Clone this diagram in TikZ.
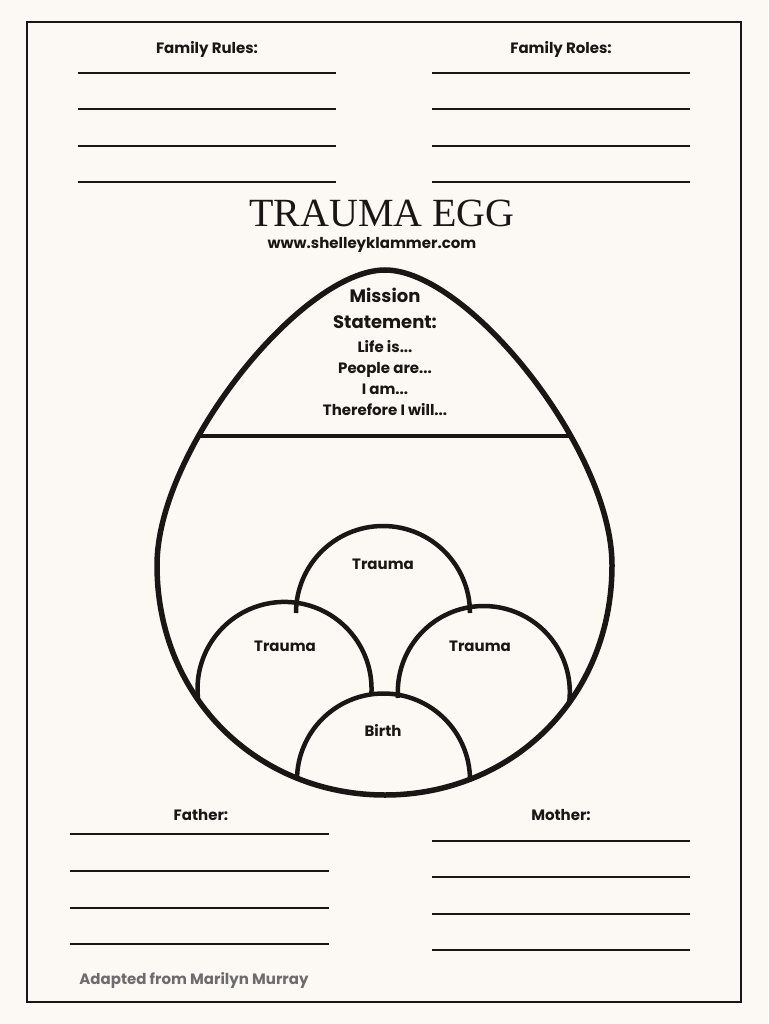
\documentclass[tikz,border=0pt]{standalone}
\usepackage{fontspec}
\setmainfont{Poppins}
\newfontfamily\titlefont{Liberation Serif}
\definecolor{bg}{HTML}{FCF8F4}
\definecolor{ink}{HTML}{1A1614}
\begin{document}
\begin{tikzpicture}[x=1pt,y=-1pt,
  lbl/.style={font=\fontsize{15}{17}\selectfont\bfseries,text=ink},
  rule/.style={line width=2.4pt,draw=ink},
  thick/.style={line width=5.5pt,draw=ink}]
\fill[bg] (0,0) rectangle (768,1024);
\useasboundingbox (0,0) rectangle (768,1024);
\draw[line width=2.8pt,ink] (27,22) rectangle (741,1002);
\node[lbl] (fr) at (207,49) {Family Rules:};
\node[lbl] (fo) at (561,49) {Family Roles:};
\foreach \y in {73,109,146,182}{\draw[rule] (78,\y)--(336,\y); \draw[rule] (432,\y)--(690,\y);}
\node[font=\titlefont\fontsize{40}{42}\selectfont,text=ink] (t) at (382,213) {TRAUMA EGG};
\node[lbl] (u) at (372,245) {www.shelleyklammer.com};
\draw[thick] (385,270) .. controls (468,270) and (612,450) .. (612,565) .. controls (612,700) and (510,795) .. (385,795) .. controls (260,795) and (157,700) .. (157,565) .. controls (157,450) and (302,270) .. cycle;
\draw[line width=3.2pt,ink] (198,436)--(571,436);
\node[font=\fontsize{18}{26}\selectfont\bfseries,text=ink,align=center] (m) at (385,308) {Mission\\Statement:};
\node[lbl,align=center] (l) at (385,378) {Life is...\\[4pt]People are...\\[4pt]I am...\\[4pt]Therefore I will...};
\begin{scope}[line width=4.5pt,ink]
\draw (296,613) arc[start angle=180,end angle=360,radius=87];
\draw (198,698) arc[start angle=174,end angle=364,radius=87];
\draw (398,698) arc[start angle=176,end angle=366,radius=86];
\draw (297,780) arc[start angle=180,end angle=360,radius=86.5];
\end{scope}
\node[lbl] (a) at (383,564) {Trauma};
\node[lbl] (b) at (285,646) {Trauma};
\node[lbl] (c) at (480,646) {Trauma};
\node[lbl] (d) at (383,730) {Birth};
\node[lbl] (fa) at (201,815) {Father:};
\node[lbl] (mo) at (561,815) {Mother:};
\foreach \y in {834,871,908,944}{\draw[rule] (70,\y)--(329,\y);}
\foreach \y in {841,877,914,950}{\draw[rule] (432,\y)--(690,\y);}
\node[font=\fontsize{15}{17}\selectfont\bfseries,text=gray!85!black] (ad) at (194,980) {Adapted from Marilyn Murray};
\end{tikzpicture}
\end{document}
